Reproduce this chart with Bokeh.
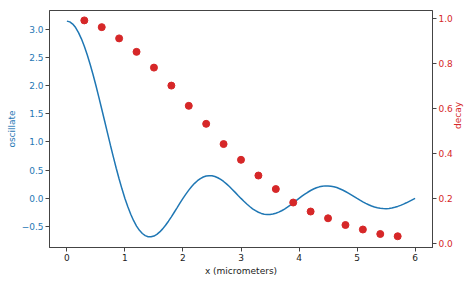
from bokeh.plotting import figure
from bokeh.models import Range1d, LinearAxis, FixedTicker
from bokeh.embed import file_html
from bokeh.resources import INLINE

# oscillate curve (every 0.05 in x)
x_line = [round(i * 0.05, 2) for i in range(121)]
oscillate = [3.142, 3.128, 3.090, 3.027, 2.939, 2.828, 2.697, 2.546, 2.378, 2.195,
             2.000, 1.796, 1.585, 1.371, 1.156, 0.943, 0.735, 0.534, 0.343, 0.165,
             0.000, -0.149, -0.281, -0.395, -0.490, -0.566, -0.622, -0.660, -0.679, -0.681,
             -0.667, -0.637, -0.594, -0.540, -0.476, -0.404, -0.327, -0.245, -0.163, -0.080,
             0.000, 0.076, 0.147, 0.211, 0.267, 0.314, 0.352, 0.379, 0.396, 0.403,
             0.400, 0.387, 0.366, 0.336, 0.300, 0.257, 0.210, 0.159, 0.107, 0.053,
             0.000, -0.051, -0.100, -0.144, -0.184, -0.218, -0.245, -0.266, -0.280, -0.286,
             -0.286, -0.278, -0.264, -0.244, -0.219, -0.189, -0.155, -0.118, -0.079, -0.040,
             0.000, 0.039, 0.075, 0.109, 0.140, 0.166, 0.188, 0.205, 0.216, 0.222,
             0.222, 0.217, 0.207, 0.192, 0.172, 0.149, 0.122, 0.094, 0.063, 0.032,
             0.000, -0.031, -0.061, -0.088, -0.113, -0.135, -0.153, -0.167, -0.176, -0.181,
             -0.182, -0.178, -0.170, -0.158, -0.142, -0.123, -0.101, -0.078, -0.052, -0.026,
             0.000]

# decay points
x_pts = [0.3, 0.6, 0.9, 1.2, 1.5, 1.8, 2.1, 2.4, 2.7, 3.0,
         3.3, 3.6, 3.9, 4.2, 4.5, 4.8, 5.1, 5.4, 5.7]
decay = [0.99, 0.96, 0.91, 0.85, 0.78, 0.70, 0.61, 0.53, 0.44, 0.37,
         0.30, 0.24, 0.18, 0.14, 0.11, 0.08, 0.06, 0.04, 0.03]

x_ticks = [0, 1, 2, 3, 4, 5, 6]
left_ticks = [-0.5, 0.0, 0.5, 1.0, 1.5, 2.0, 2.5, 3.0]
right_ticks = [0.0, 0.2, 0.4, 0.6, 0.8, 1.0]

BLUE = "#1f77b4"
RED = "#d62728"
FONT = "DejaVu Sans"
FS = "9px"

p = figure(width=474, height=284, output_backend="svg", toolbar_location=None,
           x_range=Range1d(-0.3, 6.3), y_range=Range1d(-0.87, 3.33),
           min_border_left=49, min_border_right=42, min_border_top=10,
           min_border_bottom=37)
p.extra_y_ranges = {"decay": Range1d(-0.02, 1.034)}
p.grid.visible = False
p.outline_line_color = "#444444"
p.outline_line_width = 1
p.background_fill_color = "white"
p.border_fill_color = "white"

p.line(x_line, oscillate, line_color=BLUE, line_width=1.5)
p.scatter(x_pts, decay, y_range_name="decay", size=7, fill_color=RED,
          line_color=RED)

right = LinearAxis(y_range_name="decay")
p.add_layout(right, "right")

def style(ax, ticks, lab_color, label):
    ax.ticker = FixedTicker(ticks=ticks)
    ax.minor_tick_line_color = None
    ax.major_tick_out = 4
    ax.major_tick_in = 0
    ax.major_tick_line_color = "#444444"
    ax.axis_line_color = "#444444"
    ax.major_label_standoff = 2
    ax.major_label_text_font = FONT
    ax.major_label_text_font_size = FS
    ax.major_label_text_color = lab_color
    ax.axis_label = label
    ax.axis_label_text_font = FONT
    ax.axis_label_text_font_size = FS
    ax.axis_label_text_font_style = "normal"
    ax.axis_label_text_color = lab_color
    ax.axis_label_standoff = 2

style(p.xaxis[0], x_ticks, "#222222", "x (micrometers)")
p.xaxis[0].major_label_overrides = {t: str(t) for t in x_ticks}
style(p.yaxis[0], left_ticks, BLUE, "oscillate")
p.yaxis[0].major_label_overrides = {t: f"{t:.1f}".replace("-", "\u2212") for t in left_ticks}
style(right, right_ticks, RED, "decay")
right.major_label_overrides = {t: f"{t:.1f}" for t in right_ticks}
if "axis_label_orientation" in right.properties():
    right.axis_label_orientation = 1.5707963267948966

open("out.html", "w").write(file_html(p, INLINE))
